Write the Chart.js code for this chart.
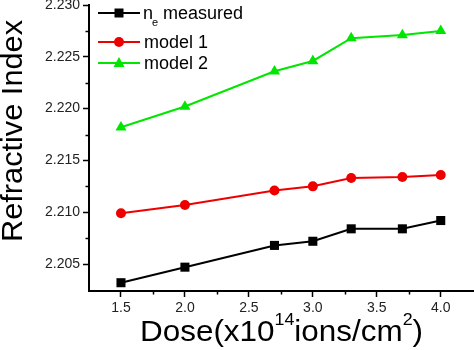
<!DOCTYPE html>
<html>
<head>
<meta charset="utf-8">
<script src="https://cdn.jsdelivr.net/npm/chart.js@4/dist/chart.umd.min.js"></script>
<style>
  html, body { margin: 0; padding: 0; background: #fff; }
  #wrap { width: 474px; height: 350px; position: relative; }
</style>
</head>
<body>
<div id="wrap"><canvas id="c" width="474" height="350"></canvas></div>
<script>
const doses = [1.5, 2.0, 2.7, 3.0, 3.3, 3.7, 4.0];
const measured = [2.2032, 2.2047, 2.2068, 2.2072, 2.2084, 2.2084, 2.2092];
const model1 = [2.2099, 2.2107, 2.2121, 2.2125, 2.2133, 2.2134, 2.2136];
const model2 = [2.2182, 2.2202, 2.2236, 2.2246, 2.2268, 2.2271, 2.2275];
const xTicks = [1.5, 2.0, 2.5, 3.0, 3.5, 4.0];
const xMinor = [1.75, 2.25, 2.75, 3.25, 3.75];
const yTicks = [2.205, 2.210, 2.215, 2.220, 2.225, 2.230];
const yMinor = [2.2075, 2.2125, 2.2175, 2.2225, 2.2275];
const seriesNames = ['measured', 'model 1', 'model 2'];

const FONT = '"Liberation Sans", Arial, sans-serif';
const BLACK = '#000000', RED = '#ee0000', GREEN = '#00e600';

function pts(ys) { return doses.map((x, i) => ({ x: x, y: ys[i] })); }

const overlay = {
  id: 'overlay',
  afterDraw(chart) {
    const ctx = chart.ctx;
    const xs = chart.scales.x, ys = chart.scales.y;
    const a = chart.chartArea;
    ctx.save();
    // minor ticks
    ctx.strokeStyle = '#000'; ctx.lineWidth = 1.5;
    xMinor.forEach(v => {
      const px = Math.round(xs.getPixelForValue(v)) + 0.5;
      ctx.beginPath(); ctx.moveTo(px, a.bottom); ctx.lineTo(px, a.bottom + 3.5); ctx.stroke();
    });
    yMinor.forEach(v => {
      const py = Math.round(ys.getPixelForValue(v)) + 0.5;
      ctx.beginPath(); ctx.moveTo(a.left, py); ctx.lineTo(a.left - 3.5, py); ctx.stroke();
    });

    // legend
    const rows = [
      { y: 13, color: BLACK, style: 'rect' },
      { y: 42, color: RED, style: 'circle' },
      { y: 63, color: GREEN, style: 'triangle' }
    ];
    rows.forEach(r => {
      ctx.strokeStyle = r.color; ctx.fillStyle = r.color; ctx.lineWidth = 2;
      ctx.beginPath(); ctx.moveTo(98, r.y); ctx.lineTo(140, r.y); ctx.stroke();
      const cx = 119, cy = r.y;
      ctx.beginPath();
      if (r.style === 'rect') { ctx.rect(cx - 4.5, cy - 4.5, 9, 9); }
      else if (r.style === 'circle') { ctx.arc(cx, cy, 5, 0, Math.PI * 2); }
      else { ctx.moveTo(cx, cy - 6); ctx.lineTo(cx + 5.5, cy + 4); ctx.lineTo(cx - 5.5, cy + 4); ctx.closePath(); }
      ctx.fill();
    });
    ctx.fillStyle = '#000';
    ctx.textBaseline = 'alphabetic'; ctx.textAlign = 'left';
    ctx.font = '18px ' + FONT;
    ctx.fillText('n', 143, 19);
    ctx.font = '11px ' + FONT;
    ctx.fillText('e', 152, 26);
    ctx.font = '18px ' + FONT;
    ctx.fillText(seriesNames[0], 163, 19);
    ctx.fillText(seriesNames[1], 144, 48);
    ctx.fillText(seriesNames[2], 144, 69);

    // x title with superscripts
    const parts = [
      { t: 'Dose(x10', big: true }, { t: '14', big: false },
      { t: 'ions/cm', big: true }, { t: '2', big: false }, { t: ')', big: true }
    ];
    const bigF = '30px ' + FONT, smallF = '17px ' + FONT;
    let total = 0;
    parts.forEach(p => { ctx.font = p.big ? bigF : smallF; p.w = ctx.measureText(p.t).width; total += p.w; });
    const targetW = 283, startX = 140, base = 341;
    const sx = targetW / total;
    ctx.save();
    ctx.translate(startX, 0);
    ctx.scale(sx, 1);
    let cur = 0;
    parts.forEach(p => {
      ctx.font = p.big ? bigF : smallF;
      ctx.fillText(p.t, cur, p.big ? base : base - 16);
      cur += p.w;
    });
    ctx.restore();

    // y title
    ctx.save();
    ctx.font = '29px ' + FONT;
    const tw = ctx.measureText('Refractive Index').width;
    ctx.translate(22, 131);
    ctx.rotate(-Math.PI / 2);
    ctx.scale(222 / tw, 1);
    ctx.textAlign = 'center';
    ctx.fillText('Refractive Index', 0, 0);
    ctx.restore();

    ctx.restore();
  }
};

new Chart(document.getElementById('c'), {
  type: 'line',
  data: {
    datasets: [
      { label: 'n_e measured', data: pts(measured), borderColor: BLACK, backgroundColor: BLACK,
        borderWidth: 2, pointStyle: 'rect', pointRadius: 6.4, pointBorderWidth: 0 },
      { label: 'model 1', data: pts(model1), borderColor: RED, backgroundColor: RED,
        borderWidth: 2, pointStyle: 'circle', pointRadius: 5, pointBorderWidth: 0 },
      { label: 'model 2', data: pts(model2), borderColor: GREEN, backgroundColor: GREEN,
        borderWidth: 2, pointStyle: 'triangle', pointRadius: 6.4, pointBorderWidth: 0 }
    ]
  },
  options: {
    responsive: false,
    animation: false,
    events: [],
    layout: { autoPadding: false, padding: { top: 5, right: 0, left: 0, bottom: 0 } },
    plugins: { legend: { display: false }, tooltip: { enabled: false } },
    scales: {
      x: {
        type: 'linear', min: 1.25, max: 4.26,
        afterBuildTicks(s) { s.ticks = xTicks.map(v => ({ value: v })); },
        afterFit(s) { s.height = 59; s.paddingLeft = 0; s.paddingRight = 0; },
        grid: { drawOnChartArea: false, drawTicks: true, tickLength: 6, tickWidth: 1.5, color: '#000' },
        border: { display: true, color: '#000', width: 2 },
        ticks: { color: '#222', font: { family: FONT, size: 14 }, padding: 3, maxRotation: 0,
          callback: v => Number(v).toFixed(1) },
        title: { display: false }
      },
      y: {
        type: 'linear', min: 2.2024, max: 2.230,
        afterBuildTicks(s) { s.ticks = yTicks.map(v => ({ value: v })); },
        afterFit(s) { s.width = 89; s.paddingTop = 0; s.paddingBottom = 0; },
        grid: { drawOnChartArea: false, drawTicks: true, tickLength: 6, tickWidth: 1.5, color: '#000' },
        border: { display: true, color: '#000', width: 2 },
        ticks: { color: '#222', font: { family: FONT, size: 14 }, padding: 3,
          callback: v => Number(v).toFixed(3) },
        title: { display: false }
      }
    }
  },
  plugins: [overlay]
});
</script>
</body>
</html>
